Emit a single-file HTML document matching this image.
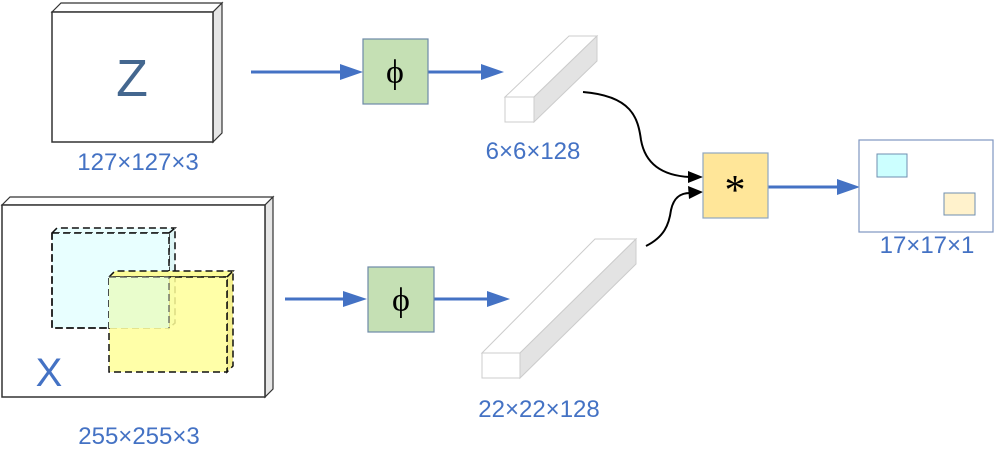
<!DOCTYPE html>
<html><head><meta charset="utf-8"><style>
html,body{margin:0;padding:0;background:#fff;width:1000px;height:470px;overflow:hidden}
svg{display:block}
text{font-family:"Liberation Sans",sans-serif}
</style></head><body>
<svg width="1000" height="470" viewBox="0 0 1000 470" xmlns="http://www.w3.org/2000/svg">
<defs>
<marker id="bh" markerWidth="10" markerHeight="10" refX="0" refY="0" viewBox="0 -8 24 16" markerUnits="userSpaceOnUse" orient="auto" overflow="visible"></marker>
</defs>
<!-- Z box -->
<polygon points="52,12 61,3 222,3 213,12" fill="#fff" stroke="#333" stroke-width="1.2"/>
<polygon points="213,12 222,3 222,133 213,142" fill="#e6e6e6" stroke="#333" stroke-width="1.2"/>
<rect x="52" y="12" width="161" height="130" fill="#fff" stroke="#333" stroke-width="1.5"/>
<text x="132" y="96" font-size="52" fill="#44678f" text-anchor="middle">Z</text>
<text x="138" y="170" font-size="24" fill="#4472c4" text-anchor="middle">127×127×3</text>

<!-- X box -->
<polygon points="2,205 10,197 273,197 265,205" fill="#fff" stroke="#333" stroke-width="1.2"/>
<polygon points="265,205 273,197 273,389 265,397" fill="#e6e6e6" stroke="#333" stroke-width="1.2"/>
<rect x="2" y="205" width="263" height="192" fill="#fff" stroke="#333" stroke-width="1.5"/>
<!-- cyan dashed -->
<g stroke="#111" stroke-width="1.5" stroke-dasharray="7,4">
<polygon points="52,233 57,228 175,228 169,233" fill="#eaffff"/>
<polygon points="169,233 175,228 175,323 169,328" fill="#dff7f7"/>
<rect x="52" y="233" width="117" height="95" fill="#e8ffff"/>
<polygon points="109,277 115,271 233,271 227,277" fill="#fcfc99"/>
<polygon points="227,277 233,271 233,366 227,372" fill="#f5f090"/>
<rect x="109" y="277" width="118" height="95" fill="#ffff99" fill-opacity="0.85"/>
</g>
<rect x="109" y="277" width="60" height="51" fill="#e9fdcc"/>
<path d="M109,277 H169 V328" fill="none" stroke="#555" stroke-width="1.2" stroke-dasharray="7,4"/>
<path d="M52,233 V328 H109" fill="none" stroke="#111" stroke-width="1.5" stroke-dasharray="7,4"/>
<text x="49" y="386" font-size="40" fill="#4472c4" text-anchor="middle">X</text>
<text x="139" y="444" font-size="24" fill="#4472c4" text-anchor="middle">255×255×3</text>

<!-- arrows top -->
<g fill="#4472c4">
<rect x="251" y="70.5" width="90" height="3"/>
<polygon points="340,64 363,72 340,80"/>
<rect x="428" y="70.5" width="55" height="3"/>
<polygon points="481,64 504,72 481,80"/>
<rect x="285" y="297.5" width="60" height="3"/>
<polygon points="343,291 367,299 343,307"/>
<rect x="434" y="297.5" width="55" height="3"/>
<polygon points="487,291 510,299 487,307"/>
<rect x="768" y="185.5" width="72" height="3"/>
<polygon points="837,179 860,187 837,195"/>
</g>
<!-- phi boxes -->
<rect x="363" y="39" width="65" height="65" fill="#c5e0b4" stroke="#6d8aa8" stroke-width="1.2"/>
<text x="395" y="83" font-size="34" font-family="Liberation Serif,serif" text-anchor="middle" fill="#000" style="font-family:'Liberation Serif',serif">ϕ</text>
<rect x="368" y="267" width="66" height="65" fill="#c5e0b4" stroke="#6d8aa8" stroke-width="1.2"/>
<text x="401" y="311" font-size="34" text-anchor="middle" fill="#000" style="font-family:'Liberation Serif',serif">ϕ</text>

<!-- small bar -->
<polygon points="505,97 569,36 597,36 534,97" fill="#fff" stroke="#ccc" stroke-width="1"/>
<polygon points="534,97 597,36 597,61 534,122" fill="#e3e3e3" stroke="#ccc" stroke-width="1"/>
<rect x="505" y="97" width="29" height="25" fill="#fff" stroke="#ccc" stroke-width="1"/>
<text x="533" y="159" font-size="24" fill="#4472c4" text-anchor="middle">6×6×128</text>

<!-- big bar -->
<polygon points="482,353 595,239 636,239 520,353" fill="#fff" stroke="#ccc" stroke-width="1"/>
<polygon points="520,353 636,239 636,264 520,378" fill="#e3e3e3" stroke="#ccc" stroke-width="1"/>
<rect x="482" y="353" width="38" height="25" fill="#fff" stroke="#ccc" stroke-width="1"/>
<text x="539" y="417" font-size="24" fill="#4472c4" text-anchor="middle">22×22×128</text>

<!-- curves -->
<path d="M583,92 C632,96 638,118 641,140 C646,168 668,176 690,177" fill="none" stroke="#000" stroke-width="2"/>
<polygon points="688,171 703,177 688,183" fill="#000"/>
<path d="M646,246 C664,237 669,225 671,210 C674,196 682,193 690,193" fill="none" stroke="#000" stroke-width="2"/>
<polygon points="688,186 703,192 689,199" fill="#000"/>

<!-- star box -->
<rect x="703" y="153" width="65" height="65" fill="#ffe699" stroke="#8fa6c0" stroke-width="1.2"/>
<text x="735" y="204" font-size="42" text-anchor="middle" fill="#000" style="font-family:'Liberation Serif',serif">*</text>

<!-- output -->
<rect x="859" y="140" width="134" height="92" fill="#fff" stroke="#7f96c0" stroke-width="1.2"/>
<rect x="877" y="154" width="30" height="23" fill="#ccffff" stroke="#6f8fb0" stroke-width="1"/>
<rect x="944" y="193" width="31" height="22" fill="#fff2cc" stroke="#6f8fb0" stroke-width="1"/>
<text x="927" y="253" font-size="24" fill="#4472c4" text-anchor="middle">17×17×1</text>
</svg>
</body></html>
